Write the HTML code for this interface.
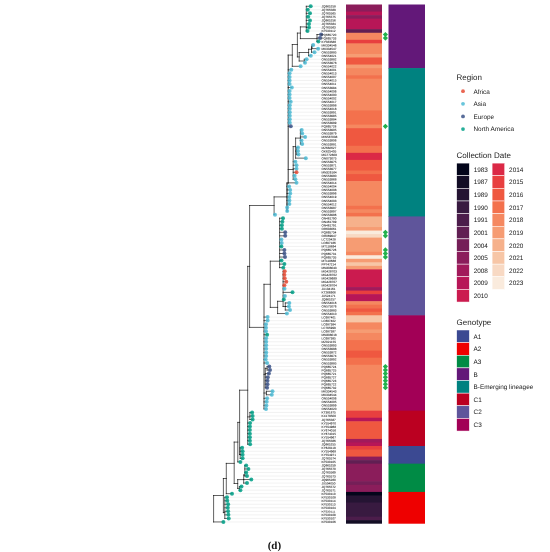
<!DOCTYPE html>
<html lang="en"><head><meta charset="utf-8"><title>Phylogenetic tree (d)</title>
<style>html,body{margin:0;padding:0;background:#fff;overflow:hidden}svg{display:block}text{text-rendering:geometricPrecision}
#wrap{position:relative;width:550px;height:552px;overflow:hidden}
#labels{position:absolute;left:0;top:0;width:1100px;height:1104px;transform:scale(0.5);transform-origin:0 0;will-change:transform;font-family:'Liberation Sans',sans-serif;font-size:6.2px;color:#111;-webkit-text-stroke:0.1px #111;text-rendering:geometricPrecision}
#labels div{position:absolute;left:643.0px;height:8px;line-height:8px;white-space:nowrap}
</style></head>
<body>
<div id="wrap">
<svg width="550" height="552" viewBox="0 0 550 552">
<rect width="550" height="552" fill="#ffffff"/>
<g stroke="#dddddd" stroke-width="0.4" fill="none">
<line x1="310.7" y1="6.27" x2="320.8" y2="6.27"/>
<line x1="307.8" y1="9.80" x2="320.8" y2="9.80"/>
<line x1="310.0" y1="13.33" x2="320.8" y2="13.33"/>
<line x1="308.2" y1="16.86" x2="320.8" y2="16.86"/>
<line x1="310.0" y1="20.39" x2="320.8" y2="20.39"/>
<line x1="309.0" y1="23.93" x2="320.8" y2="23.93"/>
<line x1="309.0" y1="27.46" x2="320.8" y2="27.46"/>
<line x1="307.5" y1="30.99" x2="320.8" y2="30.99"/>
<line x1="321.1" y1="34.52" x2="320.8" y2="34.52"/>
<line x1="320.0" y1="38.05" x2="320.8" y2="38.05"/>
<line x1="318.4" y1="41.59" x2="320.8" y2="41.59"/>
<line x1="313.2" y1="45.12" x2="320.8" y2="45.12"/>
<line x1="318.1" y1="48.65" x2="320.8" y2="48.65"/>
<line x1="314.5" y1="52.18" x2="320.8" y2="52.18"/>
<line x1="310.8" y1="55.71" x2="320.8" y2="55.71"/>
<line x1="306.6" y1="59.25" x2="320.8" y2="59.25"/>
<line x1="305.0" y1="62.78" x2="320.8" y2="62.78"/>
<line x1="300.6" y1="66.31" x2="320.8" y2="66.31"/>
<line x1="291.3" y1="69.84" x2="320.8" y2="69.84"/>
<line x1="289.6" y1="73.37" x2="320.8" y2="73.37"/>
<line x1="289.6" y1="76.91" x2="320.8" y2="76.91"/>
<line x1="289.6" y1="80.44" x2="320.8" y2="80.44"/>
<line x1="289.6" y1="83.97" x2="320.8" y2="83.97"/>
<line x1="291.8" y1="87.50" x2="320.8" y2="87.50"/>
<line x1="289.6" y1="91.03" x2="320.8" y2="91.03"/>
<line x1="289.6" y1="94.57" x2="320.8" y2="94.57"/>
<line x1="289.6" y1="98.10" x2="320.8" y2="98.10"/>
<line x1="290.7" y1="101.63" x2="320.8" y2="101.63"/>
<line x1="289.8" y1="105.16" x2="320.8" y2="105.16"/>
<line x1="289.8" y1="108.69" x2="320.8" y2="108.69"/>
<line x1="289.8" y1="112.23" x2="320.8" y2="112.23"/>
<line x1="289.8" y1="115.76" x2="320.8" y2="115.76"/>
<line x1="289.8" y1="119.29" x2="320.8" y2="119.29"/>
<line x1="289.8" y1="122.82" x2="320.8" y2="122.82"/>
<line x1="290.8" y1="126.35" x2="320.8" y2="126.35"/>
<line x1="301.7" y1="129.89" x2="320.8" y2="129.89"/>
<line x1="302.2" y1="133.42" x2="320.8" y2="133.42"/>
<line x1="305.1" y1="136.95" x2="320.8" y2="136.95"/>
<line x1="301.5" y1="140.48" x2="320.8" y2="140.48"/>
<line x1="302.2" y1="144.01" x2="320.8" y2="144.01"/>
<line x1="298.0" y1="147.55" x2="320.8" y2="147.55"/>
<line x1="298.0" y1="151.08" x2="320.8" y2="151.08"/>
<line x1="298.5" y1="154.61" x2="320.8" y2="154.61"/>
<line x1="305.8" y1="158.14" x2="320.8" y2="158.14"/>
<line x1="295.4" y1="161.67" x2="320.8" y2="161.67"/>
<line x1="296.5" y1="165.21" x2="320.8" y2="165.21"/>
<line x1="296.5" y1="168.74" x2="320.8" y2="168.74"/>
<line x1="296.5" y1="172.27" x2="320.8" y2="172.27"/>
<line x1="294.6" y1="175.80" x2="320.8" y2="175.80"/>
<line x1="295.4" y1="179.33" x2="320.8" y2="179.33"/>
<line x1="296.5" y1="182.87" x2="320.8" y2="182.87"/>
<line x1="289.1" y1="186.40" x2="320.8" y2="186.40"/>
<line x1="290.2" y1="189.93" x2="320.8" y2="189.93"/>
<line x1="290.2" y1="193.46" x2="320.8" y2="193.46"/>
<line x1="289.4" y1="196.99" x2="320.8" y2="196.99"/>
<line x1="289.4" y1="200.53" x2="320.8" y2="200.53"/>
<line x1="289.4" y1="204.06" x2="320.8" y2="204.06"/>
<line x1="287.2" y1="207.59" x2="320.8" y2="207.59"/>
<line x1="287.2" y1="211.12" x2="320.8" y2="211.12"/>
<line x1="275.0" y1="214.65" x2="320.8" y2="214.65"/>
<line x1="283.0" y1="218.19" x2="320.8" y2="218.19"/>
<line x1="282.4" y1="221.72" x2="320.8" y2="221.72"/>
<line x1="281.9" y1="225.25" x2="320.8" y2="225.25"/>
<line x1="281.9" y1="228.78" x2="320.8" y2="228.78"/>
<line x1="285.2" y1="232.31" x2="320.8" y2="232.31"/>
<line x1="285.2" y1="235.85" x2="320.8" y2="235.85"/>
<line x1="281.4" y1="239.38" x2="320.8" y2="239.38"/>
<line x1="281.7" y1="242.91" x2="320.8" y2="242.91"/>
<line x1="281.4" y1="246.44" x2="320.8" y2="246.44"/>
<line x1="284.4" y1="249.97" x2="320.8" y2="249.97"/>
<line x1="284.4" y1="253.51" x2="320.8" y2="253.51"/>
<line x1="285.0" y1="257.04" x2="320.8" y2="257.04"/>
<line x1="281.5" y1="260.57" x2="320.8" y2="260.57"/>
<line x1="284.4" y1="264.10" x2="320.8" y2="264.10"/>
<line x1="283.3" y1="267.63" x2="320.8" y2="267.63"/>
<line x1="284.7" y1="271.17" x2="320.8" y2="271.17"/>
<line x1="284.4" y1="274.70" x2="320.8" y2="274.70"/>
<line x1="284.7" y1="278.23" x2="320.8" y2="278.23"/>
<line x1="286.3" y1="281.76" x2="320.8" y2="281.76"/>
<line x1="284.4" y1="285.29" x2="320.8" y2="285.29"/>
<line x1="284.5" y1="288.83" x2="320.8" y2="288.83"/>
<line x1="292.5" y1="292.36" x2="320.8" y2="292.36"/>
<line x1="284.9" y1="295.89" x2="320.8" y2="295.89"/>
<line x1="283.8" y1="299.42" x2="320.8" y2="299.42"/>
<line x1="289.3" y1="302.95" x2="320.8" y2="302.95"/>
<line x1="288.9" y1="306.49" x2="320.8" y2="306.49"/>
<line x1="290.0" y1="310.02" x2="320.8" y2="310.02"/>
<line x1="286.9" y1="313.55" x2="320.8" y2="313.55"/>
<line x1="267.6" y1="317.08" x2="320.8" y2="317.08"/>
<line x1="267.6" y1="320.61" x2="320.8" y2="320.61"/>
<line x1="266.0" y1="324.15" x2="320.8" y2="324.15"/>
<line x1="266.0" y1="327.68" x2="320.8" y2="327.68"/>
<line x1="266.0" y1="331.21" x2="320.8" y2="331.21"/>
<line x1="267.1" y1="334.74" x2="320.8" y2="334.74"/>
<line x1="266.2" y1="338.27" x2="320.8" y2="338.27"/>
<line x1="266.2" y1="341.81" x2="320.8" y2="341.81"/>
<line x1="266.2" y1="345.34" x2="320.8" y2="345.34"/>
<line x1="266.2" y1="348.87" x2="320.8" y2="348.87"/>
<line x1="266.2" y1="352.40" x2="320.8" y2="352.40"/>
<line x1="266.2" y1="355.93" x2="320.8" y2="355.93"/>
<line x1="265.7" y1="359.47" x2="320.8" y2="359.47"/>
<line x1="267.1" y1="363.00" x2="320.8" y2="363.00"/>
<line x1="269.3" y1="366.53" x2="320.8" y2="366.53"/>
<line x1="270.0" y1="370.06" x2="320.8" y2="370.06"/>
<line x1="268.9" y1="373.59" x2="320.8" y2="373.59"/>
<line x1="267.8" y1="377.13" x2="320.8" y2="377.13"/>
<line x1="267.5" y1="380.66" x2="320.8" y2="380.66"/>
<line x1="267.5" y1="384.19" x2="320.8" y2="384.19"/>
<line x1="267.1" y1="387.72" x2="320.8" y2="387.72"/>
<line x1="272.5" y1="391.25" x2="320.8" y2="391.25"/>
<line x1="271.8" y1="394.79" x2="320.8" y2="394.79"/>
<line x1="267.1" y1="398.32" x2="320.8" y2="398.32"/>
<line x1="266.7" y1="401.85" x2="320.8" y2="401.85"/>
<line x1="266.4" y1="405.38" x2="320.8" y2="405.38"/>
<line x1="266.0" y1="408.91" x2="320.8" y2="408.91"/>
<line x1="252.1" y1="412.45" x2="320.8" y2="412.45"/>
<line x1="252.6" y1="415.98" x2="320.8" y2="415.98"/>
<line x1="252.6" y1="419.51" x2="320.8" y2="419.51"/>
<line x1="250.1" y1="423.04" x2="320.8" y2="423.04"/>
<line x1="249.9" y1="426.57" x2="320.8" y2="426.57"/>
<line x1="249.9" y1="430.11" x2="320.8" y2="430.11"/>
<line x1="249.9" y1="433.64" x2="320.8" y2="433.64"/>
<line x1="249.9" y1="437.17" x2="320.8" y2="437.17"/>
<line x1="249.9" y1="440.70" x2="320.8" y2="440.70"/>
<line x1="250.1" y1="444.23" x2="320.8" y2="444.23"/>
<line x1="242.1" y1="447.77" x2="320.8" y2="447.77"/>
<line x1="242.6" y1="451.30" x2="320.8" y2="451.30"/>
<line x1="242.6" y1="454.83" x2="320.8" y2="454.83"/>
<line x1="242.6" y1="458.36" x2="320.8" y2="458.36"/>
<line x1="240.4" y1="461.89" x2="320.8" y2="461.89"/>
<line x1="246.2" y1="465.43" x2="320.8" y2="465.43"/>
<line x1="248.4" y1="468.96" x2="320.8" y2="468.96"/>
<line x1="246.2" y1="472.49" x2="320.8" y2="472.49"/>
<line x1="247.0" y1="476.02" x2="320.8" y2="476.02"/>
<line x1="251.3" y1="479.55" x2="320.8" y2="479.55"/>
<line x1="247.0" y1="483.09" x2="320.8" y2="483.09"/>
<line x1="241.5" y1="486.62" x2="320.8" y2="486.62"/>
<line x1="240.4" y1="490.15" x2="320.8" y2="490.15"/>
<line x1="232.0" y1="493.68" x2="320.8" y2="493.68"/>
<line x1="227.0" y1="497.21" x2="320.8" y2="497.21"/>
<line x1="227.3" y1="500.75" x2="320.8" y2="500.75"/>
<line x1="228.1" y1="504.28" x2="320.8" y2="504.28"/>
<line x1="227.8" y1="507.81" x2="320.8" y2="507.81"/>
<line x1="228.1" y1="511.34" x2="320.8" y2="511.34"/>
<line x1="228.4" y1="514.87" x2="320.8" y2="514.87"/>
<line x1="228.7" y1="518.41" x2="320.8" y2="518.41"/>
<line x1="223.4" y1="521.94" x2="320.8" y2="521.94"/>
</g>
<g stroke="#000000" fill="none" stroke-linecap="square">
<line x1="306.30" y1="6.27" x2="306.30" y2="30.99" stroke-width="0.62"/>
<line x1="306.30" y1="6.27" x2="310.70" y2="6.27" stroke-width="0.62"/>
<line x1="306.30" y1="9.80" x2="307.80" y2="9.80" stroke-width="0.62"/>
<line x1="306.30" y1="13.33" x2="310.00" y2="13.33" stroke-width="0.62"/>
<line x1="306.30" y1="16.86" x2="308.20" y2="16.86" stroke-width="0.62"/>
<line x1="306.30" y1="20.39" x2="310.00" y2="20.39" stroke-width="0.62"/>
<line x1="306.30" y1="23.93" x2="309.00" y2="23.93" stroke-width="0.62"/>
<line x1="306.30" y1="27.46" x2="309.00" y2="27.46" stroke-width="0.62"/>
<line x1="306.30" y1="30.99" x2="307.50" y2="30.99" stroke-width="0.62"/>
<line x1="317.00" y1="34.52" x2="317.00" y2="41.59" stroke-width="0.62"/>
<line x1="317.00" y1="34.52" x2="321.10" y2="34.52" stroke-width="0.62"/>
<line x1="317.00" y1="38.05" x2="320.00" y2="38.05" stroke-width="0.62"/>
<line x1="317.00" y1="41.59" x2="318.40" y2="41.59" stroke-width="0.62"/>
<line x1="300.40" y1="26.90" x2="300.40" y2="38.60" stroke-width="0.62"/>
<line x1="300.40" y1="26.90" x2="306.30" y2="26.90" stroke-width="0.62"/>
<line x1="300.40" y1="38.60" x2="317.00" y2="38.60" stroke-width="0.62"/>
<line x1="312.00" y1="45.12" x2="312.00" y2="48.65" stroke-width="0.62"/>
<line x1="312.00" y1="45.12" x2="313.20" y2="45.12" stroke-width="0.62"/>
<line x1="312.00" y1="48.65" x2="318.10" y2="48.65" stroke-width="0.62"/>
<line x1="311.50" y1="46.88" x2="311.50" y2="52.18" stroke-width="0.62"/>
<line x1="311.50" y1="46.88" x2="312.00" y2="46.88" stroke-width="0.62"/>
<line x1="311.50" y1="52.18" x2="314.50" y2="52.18" stroke-width="0.62"/>
<line x1="308.60" y1="49.30" x2="308.60" y2="55.71" stroke-width="0.62"/>
<line x1="308.60" y1="49.30" x2="311.50" y2="49.30" stroke-width="0.62"/>
<line x1="308.60" y1="55.71" x2="310.80" y2="55.71" stroke-width="0.62"/>
<line x1="304.30" y1="59.25" x2="304.30" y2="62.78" stroke-width="0.62"/>
<line x1="304.30" y1="59.25" x2="306.60" y2="59.25" stroke-width="0.62"/>
<line x1="304.30" y1="62.78" x2="305.00" y2="62.78" stroke-width="0.62"/>
<line x1="299.20" y1="52.50" x2="299.20" y2="61.01" stroke-width="0.62"/>
<line x1="299.20" y1="52.50" x2="308.60" y2="52.50" stroke-width="0.62"/>
<line x1="299.20" y1="61.01" x2="304.30" y2="61.01" stroke-width="0.62"/>
<line x1="297.40" y1="33.10" x2="297.40" y2="56.90" stroke-width="0.62"/>
<line x1="297.40" y1="33.10" x2="300.40" y2="33.10" stroke-width="0.62"/>
<line x1="297.40" y1="56.90" x2="299.20" y2="56.90" stroke-width="0.62"/>
<line x1="292.30" y1="44.50" x2="292.30" y2="66.31" stroke-width="0.62"/>
<line x1="292.30" y1="44.50" x2="297.40" y2="44.50" stroke-width="0.62"/>
<line x1="292.30" y1="66.31" x2="300.60" y2="66.31" stroke-width="0.62"/>
<line x1="300.40" y1="129.89" x2="300.40" y2="144.01" stroke-width="0.62"/>
<line x1="300.40" y1="129.89" x2="301.70" y2="129.89" stroke-width="0.62"/>
<line x1="300.40" y1="133.42" x2="302.20" y2="133.42" stroke-width="0.62"/>
<line x1="300.40" y1="136.95" x2="305.10" y2="136.95" stroke-width="0.62"/>
<line x1="300.40" y1="140.48" x2="301.50" y2="140.48" stroke-width="0.62"/>
<line x1="300.40" y1="144.01" x2="302.20" y2="144.01" stroke-width="0.62"/>
<line x1="296.40" y1="147.55" x2="296.40" y2="154.61" stroke-width="0.62"/>
<line x1="296.40" y1="147.55" x2="298.00" y2="147.55" stroke-width="0.62"/>
<line x1="296.40" y1="151.08" x2="298.00" y2="151.08" stroke-width="0.62"/>
<line x1="296.40" y1="154.61" x2="298.50" y2="154.61" stroke-width="0.62"/>
<line x1="295.60" y1="138.10" x2="295.60" y2="158.14" stroke-width="0.62"/>
<line x1="295.60" y1="138.10" x2="300.40" y2="138.10" stroke-width="0.62"/>
<line x1="295.60" y1="151.08" x2="296.40" y2="151.08" stroke-width="0.62"/>
<line x1="295.60" y1="158.14" x2="305.80" y2="158.14" stroke-width="0.62"/>
<line x1="293.20" y1="146.60" x2="293.20" y2="179.33" stroke-width="0.62"/>
<line x1="293.20" y1="146.60" x2="295.60" y2="146.60" stroke-width="0.62"/>
<line x1="293.20" y1="161.67" x2="295.40" y2="161.67" stroke-width="0.62"/>
<line x1="293.20" y1="165.21" x2="296.50" y2="165.21" stroke-width="0.62"/>
<line x1="293.20" y1="168.74" x2="296.50" y2="168.74" stroke-width="0.62"/>
<line x1="293.20" y1="172.27" x2="296.50" y2="172.27" stroke-width="0.62"/>
<line x1="293.20" y1="175.80" x2="294.60" y2="175.80" stroke-width="0.62"/>
<line x1="293.20" y1="179.33" x2="295.40" y2="179.33" stroke-width="0.62"/>
<line x1="288.20" y1="55.10" x2="288.20" y2="183.00" stroke-width="0.8"/>
<line x1="288.20" y1="55.10" x2="292.30" y2="55.10" stroke-width="0.62"/>
<line x1="288.20" y1="69.84" x2="291.30" y2="69.84" stroke-width="0.62"/>
<line x1="288.20" y1="73.37" x2="289.60" y2="73.37" stroke-width="0.62"/>
<line x1="288.20" y1="76.91" x2="289.60" y2="76.91" stroke-width="0.62"/>
<line x1="288.20" y1="80.44" x2="289.60" y2="80.44" stroke-width="0.62"/>
<line x1="288.20" y1="83.97" x2="289.60" y2="83.97" stroke-width="0.62"/>
<line x1="288.20" y1="87.50" x2="291.80" y2="87.50" stroke-width="0.62"/>
<line x1="288.20" y1="91.03" x2="289.60" y2="91.03" stroke-width="0.62"/>
<line x1="288.20" y1="94.57" x2="289.60" y2="94.57" stroke-width="0.62"/>
<line x1="288.20" y1="98.10" x2="289.60" y2="98.10" stroke-width="0.62"/>
<line x1="288.20" y1="101.63" x2="290.70" y2="101.63" stroke-width="0.62"/>
<line x1="288.20" y1="105.16" x2="289.80" y2="105.16" stroke-width="0.62"/>
<line x1="288.20" y1="108.69" x2="289.80" y2="108.69" stroke-width="0.62"/>
<line x1="288.20" y1="112.23" x2="289.80" y2="112.23" stroke-width="0.62"/>
<line x1="288.20" y1="115.76" x2="289.80" y2="115.76" stroke-width="0.62"/>
<line x1="288.20" y1="119.29" x2="289.80" y2="119.29" stroke-width="0.62"/>
<line x1="288.20" y1="122.82" x2="289.80" y2="122.82" stroke-width="0.62"/>
<line x1="288.20" y1="126.35" x2="290.80" y2="126.35" stroke-width="0.62"/>
<line x1="288.20" y1="169.50" x2="293.20" y2="169.50" stroke-width="0.62"/>
<line x1="288.20" y1="182.87" x2="296.50" y2="182.87" stroke-width="0.62"/>
<line x1="287.00" y1="183.00" x2="287.00" y2="211.12" stroke-width="1.0"/>
<line x1="287.00" y1="183.00" x2="288.20" y2="183.00" stroke-width="0.62"/>
<line x1="287.00" y1="186.40" x2="289.10" y2="186.40" stroke-width="0.62"/>
<line x1="287.00" y1="189.93" x2="290.20" y2="189.93" stroke-width="0.62"/>
<line x1="287.00" y1="193.46" x2="290.20" y2="193.46" stroke-width="0.62"/>
<line x1="287.00" y1="196.99" x2="289.40" y2="196.99" stroke-width="0.62"/>
<line x1="287.00" y1="200.53" x2="289.40" y2="200.53" stroke-width="0.62"/>
<line x1="287.00" y1="204.06" x2="289.40" y2="204.06" stroke-width="0.62"/>
<line x1="287.00" y1="207.59" x2="287.20" y2="207.59" stroke-width="0.62"/>
<line x1="287.00" y1="211.12" x2="287.20" y2="211.12" stroke-width="0.62"/>
<line x1="274.10" y1="196.90" x2="274.10" y2="214.65" stroke-width="0.62"/>
<line x1="274.10" y1="196.90" x2="287.00" y2="196.90" stroke-width="0.62"/>
<line x1="274.10" y1="214.65" x2="275.00" y2="214.65" stroke-width="0.62"/>
<line x1="279.60" y1="218.19" x2="279.60" y2="267.63" stroke-width="0.62"/>
<line x1="279.60" y1="218.19" x2="283.00" y2="218.19" stroke-width="0.62"/>
<line x1="279.60" y1="221.72" x2="282.40" y2="221.72" stroke-width="0.62"/>
<line x1="279.60" y1="225.25" x2="281.90" y2="225.25" stroke-width="0.62"/>
<line x1="279.60" y1="228.78" x2="281.90" y2="228.78" stroke-width="0.62"/>
<line x1="279.60" y1="232.31" x2="285.20" y2="232.31" stroke-width="0.62"/>
<line x1="279.60" y1="235.85" x2="285.20" y2="235.85" stroke-width="0.62"/>
<line x1="279.60" y1="239.38" x2="281.40" y2="239.38" stroke-width="0.62"/>
<line x1="279.60" y1="242.91" x2="281.70" y2="242.91" stroke-width="0.62"/>
<line x1="279.60" y1="246.44" x2="281.40" y2="246.44" stroke-width="0.62"/>
<line x1="279.60" y1="249.97" x2="284.40" y2="249.97" stroke-width="0.62"/>
<line x1="279.60" y1="253.51" x2="284.40" y2="253.51" stroke-width="0.62"/>
<line x1="279.60" y1="257.04" x2="285.00" y2="257.04" stroke-width="0.62"/>
<line x1="279.60" y1="260.57" x2="281.50" y2="260.57" stroke-width="0.62"/>
<line x1="279.60" y1="264.10" x2="284.40" y2="264.10" stroke-width="0.62"/>
<line x1="279.60" y1="267.63" x2="283.30" y2="267.63" stroke-width="0.62"/>
<line x1="285.30" y1="302.95" x2="285.30" y2="310.02" stroke-width="0.62"/>
<line x1="285.30" y1="302.95" x2="289.30" y2="302.95" stroke-width="0.62"/>
<line x1="285.30" y1="306.49" x2="288.90" y2="306.49" stroke-width="0.62"/>
<line x1="285.30" y1="310.02" x2="290.00" y2="310.02" stroke-width="0.62"/>
<line x1="283.10" y1="271.17" x2="283.10" y2="306.49" stroke-width="0.62"/>
<line x1="283.10" y1="271.17" x2="284.70" y2="271.17" stroke-width="0.62"/>
<line x1="283.10" y1="274.70" x2="284.40" y2="274.70" stroke-width="0.62"/>
<line x1="283.10" y1="278.23" x2="284.70" y2="278.23" stroke-width="0.62"/>
<line x1="283.10" y1="281.76" x2="286.30" y2="281.76" stroke-width="0.62"/>
<line x1="283.10" y1="285.29" x2="284.40" y2="285.29" stroke-width="0.62"/>
<line x1="283.10" y1="288.83" x2="284.50" y2="288.83" stroke-width="0.62"/>
<line x1="283.10" y1="292.36" x2="292.50" y2="292.36" stroke-width="0.62"/>
<line x1="283.10" y1="295.89" x2="284.90" y2="295.89" stroke-width="0.62"/>
<line x1="283.10" y1="299.42" x2="283.80" y2="299.42" stroke-width="0.62"/>
<line x1="283.10" y1="306.49" x2="285.30" y2="306.49" stroke-width="0.62"/>
<line x1="277.60" y1="301.30" x2="277.60" y2="313.55" stroke-width="0.62"/>
<line x1="277.60" y1="301.30" x2="283.10" y2="301.30" stroke-width="0.62"/>
<line x1="277.60" y1="313.55" x2="286.90" y2="313.55" stroke-width="0.62"/>
<line x1="270.30" y1="261.20" x2="270.30" y2="307.40" stroke-width="0.62"/>
<line x1="270.30" y1="261.20" x2="279.60" y2="261.20" stroke-width="0.62"/>
<line x1="270.30" y1="307.40" x2="277.60" y2="307.40" stroke-width="0.62"/>
<line x1="267.10" y1="366.53" x2="267.10" y2="370.06" stroke-width="0.62"/>
<line x1="267.10" y1="366.53" x2="269.30" y2="366.53" stroke-width="0.62"/>
<line x1="267.10" y1="370.06" x2="270.00" y2="370.06" stroke-width="0.62"/>
<line x1="265.30" y1="368.30" x2="265.30" y2="387.72" stroke-width="0.62"/>
<line x1="265.30" y1="368.30" x2="267.10" y2="368.30" stroke-width="0.62"/>
<line x1="265.30" y1="373.59" x2="268.90" y2="373.59" stroke-width="0.62"/>
<line x1="265.30" y1="377.13" x2="267.80" y2="377.13" stroke-width="0.62"/>
<line x1="265.30" y1="380.66" x2="267.50" y2="380.66" stroke-width="0.62"/>
<line x1="265.30" y1="384.19" x2="267.50" y2="384.19" stroke-width="0.62"/>
<line x1="265.30" y1="387.72" x2="267.10" y2="387.72" stroke-width="0.62"/>
<line x1="266.40" y1="391.25" x2="266.40" y2="394.79" stroke-width="0.62"/>
<line x1="266.40" y1="391.25" x2="272.50" y2="391.25" stroke-width="0.62"/>
<line x1="266.40" y1="394.79" x2="271.80" y2="394.79" stroke-width="0.62"/>
<line x1="264.00" y1="284.30" x2="264.00" y2="408.91" stroke-width="0.7"/>
<line x1="264.00" y1="284.30" x2="270.30" y2="284.30" stroke-width="0.62"/>
<line x1="264.00" y1="317.08" x2="267.60" y2="317.08" stroke-width="0.62"/>
<line x1="264.00" y1="320.61" x2="267.60" y2="320.61" stroke-width="0.62"/>
<line x1="264.00" y1="324.15" x2="266.00" y2="324.15" stroke-width="0.62"/>
<line x1="264.00" y1="327.68" x2="266.00" y2="327.68" stroke-width="0.62"/>
<line x1="264.00" y1="331.21" x2="266.00" y2="331.21" stroke-width="0.62"/>
<line x1="264.00" y1="334.74" x2="267.10" y2="334.74" stroke-width="0.62"/>
<line x1="264.00" y1="338.27" x2="266.20" y2="338.27" stroke-width="0.62"/>
<line x1="264.00" y1="341.81" x2="266.20" y2="341.81" stroke-width="0.62"/>
<line x1="264.00" y1="345.34" x2="266.20" y2="345.34" stroke-width="0.62"/>
<line x1="264.00" y1="348.87" x2="266.20" y2="348.87" stroke-width="0.62"/>
<line x1="264.00" y1="352.40" x2="266.20" y2="352.40" stroke-width="0.62"/>
<line x1="264.00" y1="355.93" x2="266.20" y2="355.93" stroke-width="0.62"/>
<line x1="264.00" y1="359.47" x2="265.70" y2="359.47" stroke-width="0.62"/>
<line x1="264.00" y1="363.00" x2="267.10" y2="363.00" stroke-width="0.62"/>
<line x1="264.00" y1="374.40" x2="265.30" y2="374.40" stroke-width="0.62"/>
<line x1="264.00" y1="393.02" x2="266.40" y2="393.02" stroke-width="0.62"/>
<line x1="264.00" y1="398.32" x2="267.10" y2="398.32" stroke-width="0.62"/>
<line x1="264.00" y1="401.85" x2="266.70" y2="401.85" stroke-width="0.62"/>
<line x1="264.00" y1="405.38" x2="266.40" y2="405.38" stroke-width="0.62"/>
<line x1="264.00" y1="408.91" x2="266.00" y2="408.91" stroke-width="0.62"/>
<line x1="249.60" y1="205.50" x2="249.60" y2="327.40" stroke-width="0.62"/>
<line x1="249.60" y1="205.50" x2="274.10" y2="205.50" stroke-width="0.62"/>
<line x1="249.60" y1="327.40" x2="264.00" y2="327.40" stroke-width="0.62"/>
<line x1="249.90" y1="412.45" x2="249.90" y2="419.51" stroke-width="0.62"/>
<line x1="249.90" y1="412.45" x2="252.10" y2="412.45" stroke-width="0.62"/>
<line x1="249.90" y1="415.98" x2="252.60" y2="415.98" stroke-width="0.62"/>
<line x1="249.90" y1="419.51" x2="252.60" y2="419.51" stroke-width="0.62"/>
<line x1="247.70" y1="266.40" x2="247.70" y2="444.23" stroke-width="0.62"/>
<line x1="247.70" y1="266.40" x2="249.60" y2="266.40" stroke-width="0.62"/>
<line x1="247.70" y1="416.90" x2="249.90" y2="416.90" stroke-width="0.62"/>
<line x1="247.70" y1="423.04" x2="250.10" y2="423.04" stroke-width="0.62"/>
<line x1="247.70" y1="426.57" x2="249.90" y2="426.57" stroke-width="0.62"/>
<line x1="247.70" y1="430.11" x2="249.90" y2="430.11" stroke-width="0.62"/>
<line x1="247.70" y1="433.64" x2="249.90" y2="433.64" stroke-width="0.62"/>
<line x1="247.70" y1="437.17" x2="249.90" y2="437.17" stroke-width="0.62"/>
<line x1="247.70" y1="440.70" x2="249.90" y2="440.70" stroke-width="0.62"/>
<line x1="247.70" y1="444.23" x2="250.10" y2="444.23" stroke-width="0.62"/>
<line x1="240.20" y1="447.77" x2="240.20" y2="458.36" stroke-width="0.62"/>
<line x1="240.20" y1="447.77" x2="242.10" y2="447.77" stroke-width="0.62"/>
<line x1="240.20" y1="451.30" x2="242.60" y2="451.30" stroke-width="0.62"/>
<line x1="240.20" y1="454.83" x2="242.60" y2="454.83" stroke-width="0.62"/>
<line x1="240.20" y1="458.36" x2="242.60" y2="458.36" stroke-width="0.62"/>
<line x1="239.60" y1="390.20" x2="239.60" y2="454.50" stroke-width="0.62"/>
<line x1="239.60" y1="390.20" x2="247.70" y2="390.20" stroke-width="0.62"/>
<line x1="239.60" y1="454.50" x2="240.20" y2="454.50" stroke-width="0.62"/>
<line x1="237.80" y1="422.40" x2="237.80" y2="461.89" stroke-width="0.62"/>
<line x1="237.80" y1="422.40" x2="239.60" y2="422.40" stroke-width="0.62"/>
<line x1="237.80" y1="461.89" x2="240.40" y2="461.89" stroke-width="0.62"/>
<line x1="244.80" y1="465.43" x2="244.80" y2="476.02" stroke-width="0.62"/>
<line x1="244.80" y1="465.43" x2="246.20" y2="465.43" stroke-width="0.62"/>
<line x1="244.80" y1="468.96" x2="248.40" y2="468.96" stroke-width="0.62"/>
<line x1="244.80" y1="472.49" x2="246.20" y2="472.49" stroke-width="0.62"/>
<line x1="244.80" y1="476.02" x2="247.00" y2="476.02" stroke-width="0.62"/>
<line x1="243.70" y1="475.00" x2="243.70" y2="483.09" stroke-width="0.62"/>
<line x1="243.70" y1="475.00" x2="244.80" y2="475.00" stroke-width="0.62"/>
<line x1="243.70" y1="479.55" x2="251.30" y2="479.55" stroke-width="0.62"/>
<line x1="243.70" y1="483.09" x2="247.00" y2="483.09" stroke-width="0.62"/>
<line x1="239.40" y1="486.62" x2="239.40" y2="490.15" stroke-width="0.62"/>
<line x1="239.40" y1="486.62" x2="241.50" y2="486.62" stroke-width="0.62"/>
<line x1="239.40" y1="490.15" x2="240.40" y2="490.15" stroke-width="0.62"/>
<line x1="237.70" y1="479.60" x2="237.70" y2="488.38" stroke-width="0.62"/>
<line x1="237.70" y1="479.60" x2="243.70" y2="479.60" stroke-width="0.62"/>
<line x1="237.70" y1="488.38" x2="239.40" y2="488.38" stroke-width="0.62"/>
<line x1="234.20" y1="442.10" x2="234.20" y2="483.50" stroke-width="0.62"/>
<line x1="234.20" y1="442.10" x2="237.80" y2="442.10" stroke-width="0.62"/>
<line x1="234.20" y1="483.50" x2="237.70" y2="483.50" stroke-width="0.62"/>
<line x1="226.30" y1="463.40" x2="226.30" y2="493.68" stroke-width="0.62"/>
<line x1="226.30" y1="463.40" x2="234.20" y2="463.40" stroke-width="0.62"/>
<line x1="226.30" y1="493.68" x2="232.00" y2="493.68" stroke-width="0.62"/>
<line x1="224.80" y1="497.21" x2="224.80" y2="518.41" stroke-width="0.62"/>
<line x1="224.80" y1="497.21" x2="227.00" y2="497.21" stroke-width="0.62"/>
<line x1="224.80" y1="500.75" x2="227.30" y2="500.75" stroke-width="0.62"/>
<line x1="224.80" y1="504.28" x2="228.10" y2="504.28" stroke-width="0.62"/>
<line x1="224.80" y1="507.81" x2="227.80" y2="507.81" stroke-width="0.62"/>
<line x1="224.80" y1="511.34" x2="228.10" y2="511.34" stroke-width="0.62"/>
<line x1="224.80" y1="514.87" x2="228.40" y2="514.87" stroke-width="0.62"/>
<line x1="224.80" y1="518.41" x2="228.70" y2="518.41" stroke-width="0.62"/>
<line x1="223.40" y1="478.50" x2="223.40" y2="512.60" stroke-width="0.62"/>
<line x1="223.40" y1="478.50" x2="226.30" y2="478.50" stroke-width="0.62"/>
<line x1="223.40" y1="512.60" x2="224.80" y2="512.60" stroke-width="0.62"/>
<line x1="213.60" y1="495.50" x2="213.60" y2="521.94" stroke-width="0.62"/>
<line x1="213.60" y1="495.50" x2="223.40" y2="495.50" stroke-width="0.62"/>
<line x1="213.60" y1="521.94" x2="223.40" y2="521.94" stroke-width="0.62"/>
</g>
<g fill-opacity="0.85">
<circle cx="310.70" cy="6.27" r="2.0" fill="#00A087"/>
<circle cx="307.80" cy="9.80" r="2.0" fill="#00A087"/>
<circle cx="310.00" cy="13.33" r="2.0" fill="#00A087"/>
<circle cx="308.20" cy="16.86" r="2.0" fill="#00A087"/>
<circle cx="310.00" cy="20.39" r="2.0" fill="#00A087"/>
<circle cx="309.00" cy="23.93" r="2.0" fill="#00A087"/>
<circle cx="309.00" cy="27.46" r="2.0" fill="#00A087"/>
<circle cx="307.50" cy="30.99" r="2.0" fill="#00A087"/>
<circle cx="321.10" cy="34.52" r="2.0" fill="#3C5488"/>
<circle cx="320.00" cy="38.05" r="2.0" fill="#3C5488"/>
<circle cx="318.40" cy="41.59" r="2.0" fill="#00A087"/>
<circle cx="313.20" cy="45.12" r="2.0" fill="#4DBBD5"/>
<circle cx="318.10" cy="48.65" r="2.0" fill="#4DBBD5"/>
<circle cx="314.50" cy="52.18" r="2.0" fill="#4DBBD5"/>
<circle cx="310.80" cy="55.71" r="2.0" fill="#4DBBD5"/>
<circle cx="306.60" cy="59.25" r="2.0" fill="#4DBBD5"/>
<circle cx="305.00" cy="62.78" r="2.0" fill="#4DBBD5"/>
<circle cx="300.60" cy="66.31" r="2.0" fill="#4DBBD5"/>
<circle cx="291.30" cy="69.84" r="2.0" fill="#4DBBD5"/>
<circle cx="289.60" cy="73.37" r="2.0" fill="#4DBBD5"/>
<circle cx="289.60" cy="76.91" r="2.0" fill="#4DBBD5"/>
<circle cx="289.60" cy="80.44" r="2.0" fill="#4DBBD5"/>
<circle cx="289.60" cy="83.97" r="2.0" fill="#4DBBD5"/>
<circle cx="291.80" cy="87.50" r="2.0" fill="#4DBBD5"/>
<circle cx="289.60" cy="91.03" r="2.0" fill="#4DBBD5"/>
<circle cx="289.60" cy="94.57" r="2.0" fill="#4DBBD5"/>
<circle cx="289.60" cy="98.10" r="2.0" fill="#4DBBD5"/>
<circle cx="290.70" cy="101.63" r="2.0" fill="#4DBBD5"/>
<circle cx="289.80" cy="105.16" r="2.0" fill="#4DBBD5"/>
<circle cx="289.80" cy="108.69" r="2.0" fill="#4DBBD5"/>
<circle cx="289.80" cy="112.23" r="2.0" fill="#4DBBD5"/>
<circle cx="289.80" cy="115.76" r="2.0" fill="#4DBBD5"/>
<circle cx="289.80" cy="119.29" r="2.0" fill="#4DBBD5"/>
<circle cx="289.80" cy="122.82" r="2.0" fill="#4DBBD5"/>
<circle cx="290.80" cy="126.35" r="2.0" fill="#3C5488"/>
<circle cx="301.70" cy="129.89" r="2.0" fill="#4DBBD5"/>
<circle cx="302.20" cy="133.42" r="2.0" fill="#4DBBD5"/>
<circle cx="305.10" cy="136.95" r="2.0" fill="#4DBBD5"/>
<circle cx="301.50" cy="140.48" r="2.0" fill="#4DBBD5"/>
<circle cx="302.20" cy="144.01" r="2.0" fill="#4DBBD5"/>
<circle cx="298.00" cy="147.55" r="2.0" fill="#4DBBD5"/>
<circle cx="298.00" cy="151.08" r="2.0" fill="#4DBBD5"/>
<circle cx="298.50" cy="154.61" r="2.0" fill="#4DBBD5"/>
<circle cx="305.80" cy="158.14" r="2.0" fill="#4DBBD5"/>
<circle cx="295.40" cy="161.67" r="2.0" fill="#4DBBD5"/>
<circle cx="296.50" cy="165.21" r="2.0" fill="#4DBBD5"/>
<circle cx="296.50" cy="168.74" r="2.0" fill="#4DBBD5"/>
<circle cx="296.50" cy="172.27" r="2.0" fill="#E64B35"/>
<circle cx="294.60" cy="175.80" r="2.0" fill="#4DBBD5"/>
<circle cx="295.40" cy="179.33" r="2.0" fill="#4DBBD5"/>
<circle cx="296.50" cy="182.87" r="2.0" fill="#4DBBD5"/>
<circle cx="289.10" cy="186.40" r="2.0" fill="#4DBBD5"/>
<circle cx="290.20" cy="189.93" r="2.0" fill="#4DBBD5"/>
<circle cx="290.20" cy="193.46" r="2.0" fill="#4DBBD5"/>
<circle cx="289.40" cy="196.99" r="2.0" fill="#4DBBD5"/>
<circle cx="289.40" cy="200.53" r="2.0" fill="#4DBBD5"/>
<circle cx="289.40" cy="204.06" r="2.0" fill="#4DBBD5"/>
<circle cx="287.20" cy="207.59" r="2.0" fill="#4DBBD5"/>
<circle cx="287.20" cy="211.12" r="2.0" fill="#4DBBD5"/>
<circle cx="275.00" cy="214.65" r="2.0" fill="#4DBBD5"/>
<circle cx="283.00" cy="218.19" r="2.0" fill="#00A087"/>
<circle cx="282.40" cy="221.72" r="2.0" fill="#00A087"/>
<circle cx="281.90" cy="225.25" r="2.0" fill="#00A087"/>
<circle cx="281.90" cy="228.78" r="2.0" fill="#00A087"/>
<circle cx="285.20" cy="232.31" r="2.0" fill="#3C5488"/>
<circle cx="285.20" cy="235.85" r="2.0" fill="#3C5488"/>
<circle cx="281.40" cy="239.38" r="2.0" fill="#4DBBD5"/>
<circle cx="281.70" cy="242.91" r="2.0" fill="#4DBBD5"/>
<circle cx="281.40" cy="246.44" r="2.0" fill="#00A087"/>
<circle cx="284.40" cy="249.97" r="2.0" fill="#3C5488"/>
<circle cx="284.40" cy="253.51" r="2.0" fill="#3C5488"/>
<circle cx="285.00" cy="257.04" r="2.0" fill="#3C5488"/>
<circle cx="281.50" cy="260.57" r="2.0" fill="#00A087"/>
<circle cx="284.40" cy="264.10" r="2.0" fill="#00A087"/>
<circle cx="283.30" cy="267.63" r="2.0" fill="#00A087"/>
<circle cx="284.70" cy="271.17" r="2.0" fill="#E64B35"/>
<circle cx="284.40" cy="274.70" r="2.0" fill="#E64B35"/>
<circle cx="284.70" cy="278.23" r="2.0" fill="#E64B35"/>
<circle cx="286.30" cy="281.76" r="2.0" fill="#E64B35"/>
<circle cx="284.40" cy="285.29" r="2.0" fill="#E64B35"/>
<circle cx="284.50" cy="288.83" r="2.0" fill="#4DBBD5"/>
<circle cx="292.50" cy="292.36" r="2.0" fill="#00A087"/>
<circle cx="284.90" cy="295.89" r="2.0" fill="#4DBBD5"/>
<circle cx="283.80" cy="299.42" r="2.0" fill="#00A087"/>
<circle cx="289.30" cy="302.95" r="2.0" fill="#4DBBD5"/>
<circle cx="288.90" cy="306.49" r="2.0" fill="#4DBBD5"/>
<circle cx="290.00" cy="310.02" r="2.0" fill="#4DBBD5"/>
<circle cx="286.90" cy="313.55" r="2.0" fill="#4DBBD5"/>
<circle cx="267.60" cy="317.08" r="2.0" fill="#4DBBD5"/>
<circle cx="267.60" cy="320.61" r="2.0" fill="#4DBBD5"/>
<circle cx="266.00" cy="324.15" r="2.0" fill="#4DBBD5"/>
<circle cx="266.00" cy="327.68" r="2.0" fill="#4DBBD5"/>
<circle cx="266.00" cy="331.21" r="2.0" fill="#4DBBD5"/>
<circle cx="267.10" cy="334.74" r="2.0" fill="#00A087"/>
<circle cx="266.20" cy="338.27" r="2.0" fill="#4DBBD5"/>
<circle cx="266.20" cy="341.81" r="2.0" fill="#4DBBD5"/>
<circle cx="266.20" cy="345.34" r="2.0" fill="#4DBBD5"/>
<circle cx="266.20" cy="348.87" r="2.0" fill="#4DBBD5"/>
<circle cx="266.20" cy="352.40" r="2.0" fill="#4DBBD5"/>
<circle cx="266.20" cy="355.93" r="2.0" fill="#4DBBD5"/>
<circle cx="265.70" cy="359.47" r="2.0" fill="#4DBBD5"/>
<circle cx="267.10" cy="363.00" r="2.0" fill="#4DBBD5"/>
<circle cx="269.30" cy="366.53" r="2.0" fill="#3C5488"/>
<circle cx="270.00" cy="370.06" r="2.0" fill="#3C5488"/>
<circle cx="268.90" cy="373.59" r="2.0" fill="#3C5488"/>
<circle cx="267.80" cy="377.13" r="2.0" fill="#3C5488"/>
<circle cx="267.50" cy="380.66" r="2.0" fill="#3C5488"/>
<circle cx="267.50" cy="384.19" r="2.0" fill="#3C5488"/>
<circle cx="267.10" cy="387.72" r="2.0" fill="#3C5488"/>
<circle cx="272.50" cy="391.25" r="2.0" fill="#4DBBD5"/>
<circle cx="271.80" cy="394.79" r="2.0" fill="#4DBBD5"/>
<circle cx="267.10" cy="398.32" r="2.0" fill="#4DBBD5"/>
<circle cx="266.70" cy="401.85" r="2.0" fill="#4DBBD5"/>
<circle cx="266.40" cy="405.38" r="2.0" fill="#4DBBD5"/>
<circle cx="266.00" cy="408.91" r="2.0" fill="#4DBBD5"/>
<circle cx="252.10" cy="412.45" r="2.0" fill="#00A087"/>
<circle cx="252.60" cy="415.98" r="2.0" fill="#00A087"/>
<circle cx="252.60" cy="419.51" r="2.0" fill="#00A087"/>
<circle cx="250.10" cy="423.04" r="2.0" fill="#00A087"/>
<circle cx="249.90" cy="426.57" r="2.0" fill="#00A087"/>
<circle cx="249.90" cy="430.11" r="2.0" fill="#00A087"/>
<circle cx="249.90" cy="433.64" r="2.0" fill="#00A087"/>
<circle cx="249.90" cy="437.17" r="2.0" fill="#00A087"/>
<circle cx="249.90" cy="440.70" r="2.0" fill="#00A087"/>
<circle cx="250.10" cy="444.23" r="2.0" fill="#00A087"/>
<circle cx="242.10" cy="447.77" r="2.0" fill="#00A087"/>
<circle cx="242.60" cy="451.30" r="2.0" fill="#00A087"/>
<circle cx="242.60" cy="454.83" r="2.0" fill="#00A087"/>
<circle cx="242.60" cy="458.36" r="2.0" fill="#00A087"/>
<circle cx="240.40" cy="461.89" r="2.0" fill="#00A087"/>
<circle cx="246.20" cy="465.43" r="2.0" fill="#00A087"/>
<circle cx="248.40" cy="468.96" r="2.0" fill="#00A087"/>
<circle cx="246.20" cy="472.49" r="2.0" fill="#00A087"/>
<circle cx="247.00" cy="476.02" r="2.0" fill="#00A087"/>
<circle cx="251.30" cy="479.55" r="2.0" fill="#00A087"/>
<circle cx="247.00" cy="483.09" r="2.0" fill="#00A087"/>
<circle cx="241.50" cy="486.62" r="2.0" fill="#00A087"/>
<circle cx="240.40" cy="490.15" r="2.0" fill="#00A087"/>
<circle cx="232.00" cy="493.68" r="2.0" fill="#00A087"/>
<circle cx="227.00" cy="497.21" r="2.0" fill="#00A087"/>
<circle cx="227.30" cy="500.75" r="2.0" fill="#00A087"/>
<circle cx="228.10" cy="504.28" r="2.0" fill="#00A087"/>
<circle cx="227.80" cy="507.81" r="2.0" fill="#00A087"/>
<circle cx="228.10" cy="511.34" r="2.0" fill="#00A087"/>
<circle cx="228.40" cy="514.87" r="2.0" fill="#00A087"/>
<circle cx="228.70" cy="518.41" r="2.0" fill="#00A087"/>
<circle cx="223.40" cy="521.94" r="2.0" fill="#00A087"/>
</g>
<g>
<rect x="346.0" y="4.50" width="36.00" height="7.66" fill="#8b1d5b"/>
<rect x="346.0" y="11.56" width="36.00" height="4.13" fill="#b71657"/>
<rect x="346.0" y="15.10" width="36.00" height="4.13" fill="#8b1d5b"/>
<rect x="346.0" y="18.63" width="36.00" height="11.20" fill="#b71657"/>
<rect x="346.0" y="29.22" width="36.00" height="4.13" fill="#611f53"/>
<rect x="346.0" y="32.76" width="36.00" height="7.66" fill="#f58860"/>
<rect x="346.0" y="39.82" width="36.00" height="4.13" fill="#e83f3f"/>
<rect x="346.0" y="43.35" width="36.00" height="11.20" fill="#f58860"/>
<rect x="346.0" y="53.95" width="36.00" height="4.13" fill="#f69c73"/>
<rect x="346.0" y="57.48" width="36.00" height="7.66" fill="#ef5840"/>
<rect x="346.0" y="64.54" width="36.00" height="4.13" fill="#f69c73"/>
<rect x="346.0" y="68.08" width="36.00" height="7.66" fill="#f58860"/>
<rect x="346.0" y="75.14" width="36.00" height="4.13" fill="#f3714d"/>
<rect x="346.0" y="78.67" width="36.00" height="32.39" fill="#f58860"/>
<rect x="346.0" y="110.46" width="36.00" height="14.73" fill="#f3714d"/>
<rect x="346.0" y="124.59" width="36.00" height="4.13" fill="#f58860"/>
<rect x="346.0" y="128.12" width="36.00" height="18.26" fill="#ef5840"/>
<rect x="346.0" y="145.78" width="36.00" height="7.66" fill="#f3714d"/>
<rect x="346.0" y="152.84" width="36.00" height="7.66" fill="#db2946"/>
<rect x="346.0" y="159.91" width="36.00" height="11.20" fill="#ef5840"/>
<rect x="346.0" y="170.50" width="36.00" height="4.13" fill="#f3714d"/>
<rect x="346.0" y="174.04" width="36.00" height="7.66" fill="#ef5840"/>
<rect x="346.0" y="181.10" width="36.00" height="25.32" fill="#f58860"/>
<rect x="346.0" y="205.82" width="36.00" height="4.13" fill="#f3714d"/>
<rect x="346.0" y="209.36" width="36.00" height="4.13" fill="#f58860"/>
<rect x="346.0" y="212.89" width="36.00" height="4.13" fill="#f3714d"/>
<rect x="346.0" y="216.42" width="36.00" height="11.20" fill="#f6b18b"/>
<rect x="346.0" y="227.02" width="36.00" height="4.13" fill="#f69c73"/>
<rect x="346.0" y="230.55" width="36.00" height="4.13" fill="#faebdd"/>
<rect x="346.0" y="234.08" width="36.00" height="4.13" fill="#f8d9c3"/>
<rect x="346.0" y="237.61" width="36.00" height="14.73" fill="#f69c73"/>
<rect x="346.0" y="251.74" width="36.00" height="4.13" fill="#f58860"/>
<rect x="346.0" y="255.27" width="36.00" height="4.13" fill="#faebdd"/>
<rect x="346.0" y="258.80" width="36.00" height="4.13" fill="#f69c73"/>
<rect x="346.0" y="262.34" width="36.00" height="4.13" fill="#f7c6a6"/>
<rect x="346.0" y="265.87" width="36.00" height="4.13" fill="#f69c73"/>
<rect x="346.0" y="269.40" width="36.00" height="18.26" fill="#cb1b4f"/>
<rect x="346.0" y="287.06" width="36.00" height="4.13" fill="#a11a5b"/>
<rect x="346.0" y="290.59" width="36.00" height="4.13" fill="#e83f3f"/>
<rect x="346.0" y="294.12" width="36.00" height="7.66" fill="#b71657"/>
<rect x="346.0" y="301.19" width="36.00" height="4.13" fill="#f58860"/>
<rect x="346.0" y="304.72" width="36.00" height="4.13" fill="#f3714d"/>
<rect x="346.0" y="308.25" width="36.00" height="4.13" fill="#ef5840"/>
<rect x="346.0" y="311.78" width="36.00" height="4.13" fill="#f3714d"/>
<rect x="346.0" y="315.32" width="36.00" height="7.66" fill="#f7c6a6"/>
<rect x="346.0" y="322.38" width="36.00" height="7.66" fill="#f58860"/>
<rect x="346.0" y="329.44" width="36.00" height="4.13" fill="#f69c73"/>
<rect x="346.0" y="332.98" width="36.00" height="7.66" fill="#f58860"/>
<rect x="346.0" y="340.04" width="36.00" height="11.20" fill="#f3714d"/>
<rect x="346.0" y="350.64" width="36.00" height="7.66" fill="#ef5840"/>
<rect x="346.0" y="357.70" width="36.00" height="7.66" fill="#f3714d"/>
<rect x="346.0" y="364.76" width="36.00" height="46.52" fill="#f58860"/>
<rect x="346.0" y="410.68" width="36.00" height="7.66" fill="#e83f3f"/>
<rect x="346.0" y="417.74" width="36.00" height="4.13" fill="#b71657"/>
<rect x="346.0" y="421.28" width="36.00" height="18.26" fill="#ef5840"/>
<rect x="346.0" y="438.94" width="36.00" height="4.13" fill="#a11a5b"/>
<rect x="346.0" y="442.47" width="36.00" height="4.13" fill="#b71657"/>
<rect x="346.0" y="446.00" width="36.00" height="4.13" fill="#e83f3f"/>
<rect x="346.0" y="449.53" width="36.00" height="7.66" fill="#ef5840"/>
<rect x="346.0" y="456.60" width="36.00" height="4.13" fill="#8b1d5b"/>
<rect x="346.0" y="460.13" width="36.00" height="4.13" fill="#611f53"/>
<rect x="346.0" y="463.66" width="36.00" height="18.26" fill="#8b1d5b"/>
<rect x="346.0" y="481.32" width="36.00" height="4.13" fill="#751f58"/>
<rect x="346.0" y="484.85" width="36.00" height="7.66" fill="#8b1d5b"/>
<rect x="346.0" y="491.92" width="36.00" height="4.13" fill="#03051a"/>
<rect x="346.0" y="495.45" width="36.00" height="7.66" fill="#251433"/>
<rect x="346.0" y="502.51" width="36.00" height="14.73" fill="#381a40"/>
<rect x="346.0" y="516.64" width="36.00" height="4.13" fill="#4c1d4b"/>
<rect x="346.0" y="520.17" width="36.00" height="3.53" fill="#130d25"/>
<rect x="388.5" y="4.50" width="36.50" height="64.18" fill="#631879"/>
<rect x="388.5" y="68.08" width="36.50" height="148.94" fill="#008280"/>
<rect x="388.5" y="216.42" width="36.50" height="99.50" fill="#5F559B"/>
<rect x="388.5" y="315.32" width="36.50" height="95.96" fill="#A20056"/>
<rect x="388.5" y="410.68" width="36.50" height="35.92" fill="#BB0021"/>
<rect x="388.5" y="446.00" width="36.50" height="18.26" fill="#3B4992"/>
<rect x="388.5" y="463.66" width="36.50" height="28.86" fill="#008B45"/>
<rect x="388.5" y="491.92" width="36.50" height="31.79" fill="#EE0000"/>
</g>
<g fill="#22b14c">
<path d="M382.80 34.52L385.40 31.92L388.00 34.52L385.40 37.12Z"/>
<path d="M382.80 38.05L385.40 35.45L388.00 38.05L385.40 40.65Z"/>
<path d="M382.80 126.35L385.40 123.75L388.00 126.35L385.40 128.95Z"/>
<path d="M382.80 232.31L385.40 229.71L388.00 232.31L385.40 234.91Z"/>
<path d="M382.80 235.85L385.40 233.25L388.00 235.85L385.40 238.45Z"/>
<path d="M382.80 249.97L385.40 247.37L388.00 249.97L385.40 252.57Z"/>
<path d="M382.80 253.51L385.40 250.91L388.00 253.51L385.40 256.11Z"/>
<path d="M382.80 257.04L385.40 254.44L388.00 257.04L385.40 259.64Z"/>
<path d="M382.80 366.53L385.40 363.93L388.00 366.53L385.40 369.13Z"/>
<path d="M382.80 370.06L385.40 367.46L388.00 370.06L385.40 372.66Z"/>
<path d="M382.80 373.59L385.40 370.99L388.00 373.59L385.40 376.19Z"/>
<path d="M382.80 377.13L385.40 374.53L388.00 377.13L385.40 379.73Z"/>
<path d="M382.80 380.66L385.40 378.06L388.00 380.66L385.40 383.26Z"/>
<path d="M382.80 384.19L385.40 381.59L388.00 384.19L385.40 386.79Z"/>
<path d="M382.80 387.72L385.40 385.12L388.00 387.72L385.40 390.32Z"/>
</g>
<g font-family="'Liberation Sans', sans-serif" fill="#1a1a1a">
<text x="456.6" y="80" font-size="8">Region</text>
<circle cx="463" cy="91.20" r="1.9" fill="#E64B35" fill-opacity="0.85"/>
<text x="473.5" y="93.50" font-size="6.4">Africa</text>
<circle cx="463" cy="103.83" r="1.9" fill="#4DBBD5" fill-opacity="0.85"/>
<text x="473.5" y="106.13" font-size="6.4">Asia</text>
<circle cx="463" cy="116.46" r="1.9" fill="#3C5488" fill-opacity="0.85"/>
<text x="473.5" y="118.76" font-size="6.4">Europe</text>
<circle cx="463" cy="129.09" r="1.9" fill="#00A087" fill-opacity="0.85"/>
<text x="473.5" y="131.39" font-size="6.4">North America</text>
<text x="456.6" y="158.4" font-size="8">Collection Date</text>
<rect x="456.7" y="163.10" width="12.63" height="12.63" fill="#03051a" stroke="#fff" stroke-width="0.5"/>
<text x="473.7" y="171.72" font-size="6.4">1983</text>
<rect x="456.7" y="175.73" width="12.63" height="12.63" fill="#130d25" stroke="#fff" stroke-width="0.5"/>
<text x="473.7" y="184.34" font-size="6.4">1987</text>
<rect x="456.7" y="188.36" width="12.63" height="12.63" fill="#251433" stroke="#fff" stroke-width="0.5"/>
<text x="473.7" y="196.97" font-size="6.4">1989</text>
<rect x="456.7" y="200.99" width="12.63" height="12.63" fill="#381a40" stroke="#fff" stroke-width="0.5"/>
<text x="473.7" y="209.61" font-size="6.4">1990</text>
<rect x="456.7" y="213.62" width="12.63" height="12.63" fill="#4c1d4b" stroke="#fff" stroke-width="0.5"/>
<text x="473.7" y="222.24" font-size="6.4">1991</text>
<rect x="456.7" y="226.25" width="12.63" height="12.63" fill="#611f53" stroke="#fff" stroke-width="0.5"/>
<text x="473.7" y="234.87" font-size="6.4">2001</text>
<rect x="456.7" y="238.88" width="12.63" height="12.63" fill="#751f58" stroke="#fff" stroke-width="0.5"/>
<text x="473.7" y="247.50" font-size="6.4">2004</text>
<rect x="456.7" y="251.51" width="12.63" height="12.63" fill="#8b1d5b" stroke="#fff" stroke-width="0.5"/>
<text x="473.7" y="260.12" font-size="6.4">2005</text>
<rect x="456.7" y="264.14" width="12.63" height="12.63" fill="#a11a5b" stroke="#fff" stroke-width="0.5"/>
<text x="473.7" y="272.75" font-size="6.4">2008</text>
<rect x="456.7" y="276.77" width="12.63" height="12.63" fill="#b71657" stroke="#fff" stroke-width="0.5"/>
<text x="473.7" y="285.38" font-size="6.4">2009</text>
<rect x="456.7" y="289.40" width="12.63" height="12.63" fill="#cb1b4f" stroke="#fff" stroke-width="0.5"/>
<text x="473.7" y="298.01" font-size="6.4">2010</text>
<rect x="492.1" y="163.10" width="12.63" height="12.63" fill="#db2946" stroke="#fff" stroke-width="0.5"/>
<text x="509.1" y="171.72" font-size="6.4">2014</text>
<rect x="492.1" y="175.73" width="12.63" height="12.63" fill="#e83f3f" stroke="#fff" stroke-width="0.5"/>
<text x="509.1" y="184.34" font-size="6.4">2015</text>
<rect x="492.1" y="188.36" width="12.63" height="12.63" fill="#ef5840" stroke="#fff" stroke-width="0.5"/>
<text x="509.1" y="196.97" font-size="6.4">2016</text>
<rect x="492.1" y="200.99" width="12.63" height="12.63" fill="#f3714d" stroke="#fff" stroke-width="0.5"/>
<text x="509.1" y="209.61" font-size="6.4">2017</text>
<rect x="492.1" y="213.62" width="12.63" height="12.63" fill="#f58860" stroke="#fff" stroke-width="0.5"/>
<text x="509.1" y="222.24" font-size="6.4">2018</text>
<rect x="492.1" y="226.25" width="12.63" height="12.63" fill="#f69c73" stroke="#fff" stroke-width="0.5"/>
<text x="509.1" y="234.87" font-size="6.4">2019</text>
<rect x="492.1" y="238.88" width="12.63" height="12.63" fill="#f6b18b" stroke="#fff" stroke-width="0.5"/>
<text x="509.1" y="247.50" font-size="6.4">2020</text>
<rect x="492.1" y="251.51" width="12.63" height="12.63" fill="#f7c6a6" stroke="#fff" stroke-width="0.5"/>
<text x="509.1" y="260.12" font-size="6.4">2021</text>
<rect x="492.1" y="264.14" width="12.63" height="12.63" fill="#f8d9c3" stroke="#fff" stroke-width="0.5"/>
<text x="509.1" y="272.75" font-size="6.4">2022</text>
<rect x="492.1" y="276.77" width="12.63" height="12.63" fill="#faebdd" stroke="#fff" stroke-width="0.5"/>
<text x="509.1" y="285.38" font-size="6.4">2023</text>
<text x="456.6" y="324.6" font-size="8">Genotype</text>
<rect x="456.7" y="330.00" width="12.63" height="12.63" fill="#3B4992" stroke="#fff" stroke-width="0.5"/>
<text x="473.6" y="338.62" font-size="6.4">A1</text>
<rect x="456.7" y="342.63" width="12.63" height="12.63" fill="#EE0000" stroke="#fff" stroke-width="0.5"/>
<text x="473.6" y="351.25" font-size="6.4">A2</text>
<rect x="456.7" y="355.26" width="12.63" height="12.63" fill="#008B45" stroke="#fff" stroke-width="0.5"/>
<text x="473.6" y="363.88" font-size="6.4">A3</text>
<rect x="456.7" y="367.89" width="12.63" height="12.63" fill="#631879" stroke="#fff" stroke-width="0.5"/>
<text x="473.6" y="376.50" font-size="6.4">B</text>
<rect x="456.7" y="380.52" width="12.63" height="12.63" fill="#008280" stroke="#fff" stroke-width="0.5"/>
<text x="473.6" y="389.13" font-size="6.4">B-Emerging lineagee</text>
<rect x="456.7" y="393.15" width="12.63" height="12.63" fill="#BB0021" stroke="#fff" stroke-width="0.5"/>
<text x="473.6" y="401.76" font-size="6.4">C1</text>
<rect x="456.7" y="405.78" width="12.63" height="12.63" fill="#5F559B" stroke="#fff" stroke-width="0.5"/>
<text x="473.6" y="414.39" font-size="6.4">C2</text>
<rect x="456.7" y="418.41" width="12.63" height="12.63" fill="#A20056" stroke="#fff" stroke-width="0.5"/>
<text x="473.6" y="427.03" font-size="6.4">C3</text>
</g>
<text x="274.4" y="548.5" text-anchor="middle" font-family="'Liberation Serif', serif" font-weight="bold" font-size="11" fill="#111">(d)</text>
</svg>
<div id="labels"><div style="top:10.03px">JQ965258</div><div style="top:17.10px">JQ765568</div><div style="top:24.16px">JQ765565</div><div style="top:31.22px">JQ765575</div><div style="top:38.29px">JQ965256</div><div style="top:45.35px">JQ765564</div><div style="top:52.42px">JQ765563</div><div style="top:59.48px">KF530112</div><div style="top:66.54px">PQ665720</div><div style="top:73.61px">PQ665733</div><div style="top:80.67px">KY563586</div><div style="top:87.74px">MK334546</div><div style="top:94.80px">MK334547</div><div style="top:101.86px">ON553985</div><div style="top:108.93px">ON554021</div><div style="top:115.99px">ON553982</div><div style="top:123.06px">ON553978</div><div style="top:130.12px">ON554022</div><div style="top:137.18px">ON554001</div><div style="top:144.25px">ON554013</div><div style="top:151.31px">ON554007</div><div style="top:158.38px">ON554015</div><div style="top:165.44px">ON554011</div><div style="top:172.50px">ON553994</div><div style="top:179.57px">ON554006</div><div style="top:186.63px">ON554000</div><div style="top:193.70px">ON554002</div><div style="top:200.76px">ON554017</div><div style="top:207.82px">ON553998</div><div style="top:214.89px">ON554018</div><div style="top:221.95px">ON553991</div><div style="top:229.02px">ON553995</div><div style="top:236.08px">ON553984</div><div style="top:243.14px">ON553989</div><div style="top:250.21px">PQ665728</div><div style="top:257.27px">ON553905</div><div style="top:264.34px">ON553979</div><div style="top:271.40px">MW587038</div><div style="top:278.46px">ON553906</div><div style="top:285.53px">ON553981</div><div style="top:292.59px">MZ682627</div><div style="top:299.66px">OK625405</div><div style="top:306.72px">MG772808</div><div style="top:313.78px">ON073075</div><div style="top:320.85px">ON553975</div><div style="top:327.91px">ON553971</div><div style="top:334.98px">ON553977</div><div style="top:342.04px">MN326164</div><div style="top:349.10px">ON553980</div><div style="top:356.17px">ON553968</div><div style="top:363.23px">ON554014</div><div style="top:370.30px">ON554004</div><div style="top:377.36px">ON554008</div><div style="top:384.42px">ON553996</div><div style="top:391.49px">ON554019</div><div style="top:398.55px">ON554003</div><div style="top:405.62px">ON554012</div><div style="top:412.68px">ON553987</div><div style="top:419.74px">ON553997</div><div style="top:426.81px">ON553986</div><div style="top:433.87px">ON461790</div><div style="top:440.94px">ON461789</div><div style="top:448.00px">ON461791</div><div style="top:455.06px">OR603061</div><div style="top:462.13px">PQ665734</div><div style="top:469.19px">OR069947</div><div style="top:476.26px">LC720428</div><div style="top:483.32px">LC697186</div><div style="top:490.38px">MT118694</div><div style="top:497.45px">PQ665726</div><div style="top:504.51px">PQ665731</div><div style="top:511.58px">PQ665735</div><div style="top:518.64px">MT118686</div><div style="top:525.70px">PP747214</div><div style="top:532.77px">MN308043</div><div style="top:539.83px">MG428703</div><div style="top:546.90px">MG428702</div><div style="top:553.96px">MG428699</div><div style="top:561.02px">MG428707</div><div style="top:568.09px">MG428704</div><div style="top:575.15px">JX104161</div><div style="top:582.22px">KT266906</div><div style="top:589.28px">JX524171</div><div style="top:596.34px">JQ965257</div><div style="top:603.41px">ON554016</div><div style="top:610.47px">ON575076</div><div style="top:617.54px">ON553983</div><div style="top:624.60px">ON554010</div><div style="top:631.66px">LC687401</div><div style="top:638.73px">LC687402</div><div style="top:645.79px">LC687384</div><div style="top:652.86px">LC795998</div><div style="top:659.92px">LC687397</div><div style="top:666.98px">MN308018</div><div style="top:674.05px">LC687385</div><div style="top:681.11px">MZ021155</div><div style="top:688.18px">ON553993</div><div style="top:695.24px">ON553988</div><div style="top:702.30px">ON553972</div><div style="top:709.37px">ON553974</div><div style="top:716.43px">ON553992</div><div style="top:723.50px">ON553985</div><div style="top:730.56px">PQ665724</div><div style="top:737.62px">PQ665725</div><div style="top:744.69px">PQ665721</div><div style="top:751.75px">PQ665727</div><div style="top:758.82px">PQ665723</div><div style="top:765.88px">PQ665722</div><div style="top:772.94px">PQ665732</div><div style="top:780.01px">MK334543</div><div style="top:787.07px">MK334544</div><div style="top:794.14px">ON554006</div><div style="top:801.20px">ON554005</div><div style="top:808.26px">ON553999</div><div style="top:815.33px">ON554020</div><div style="top:822.39px">KT381875</div><div style="top:829.46px">KX179500</div><div style="top:836.52px">JQ765567</div><div style="top:843.58px">KY554970</div><div style="top:850.65px">KY554968</div><div style="top:857.71px">KY674016</div><div style="top:864.78px">KY674015</div><div style="top:871.84px">KY554967</div><div style="top:878.90px">JQ765566</div><div style="top:885.97px">JQ965255</div><div style="top:893.03px">KY629118</div><div style="top:900.10px">KY554969</div><div style="top:907.16px">KY554971</div><div style="top:914.22px">JQ765574</div><div style="top:921.29px">KF530105</div><div style="top:928.35px">JQ965259</div><div style="top:935.42px">JQ765570</div><div style="top:942.48px">JQ765569</div><div style="top:949.54px">JQ765573</div><div style="top:956.61px">JQ965260</div><div style="top:963.67px">JX504050</div><div style="top:970.74px">JQ765572</div><div style="top:977.80px">JQ765571</div><div style="top:984.86px">KF530110</div><div style="top:991.93px">KF530108</div><div style="top:998.99px">KF530114</div><div style="top:1006.06px">KF530113</div><div style="top:1013.12px">KF530104</div><div style="top:1020.18px">KF530111</div><div style="top:1027.25px">KF530109</div><div style="top:1034.31px">KF530107</div><div style="top:1041.38px">KF530106</div></div>
</div>
</body></html>
